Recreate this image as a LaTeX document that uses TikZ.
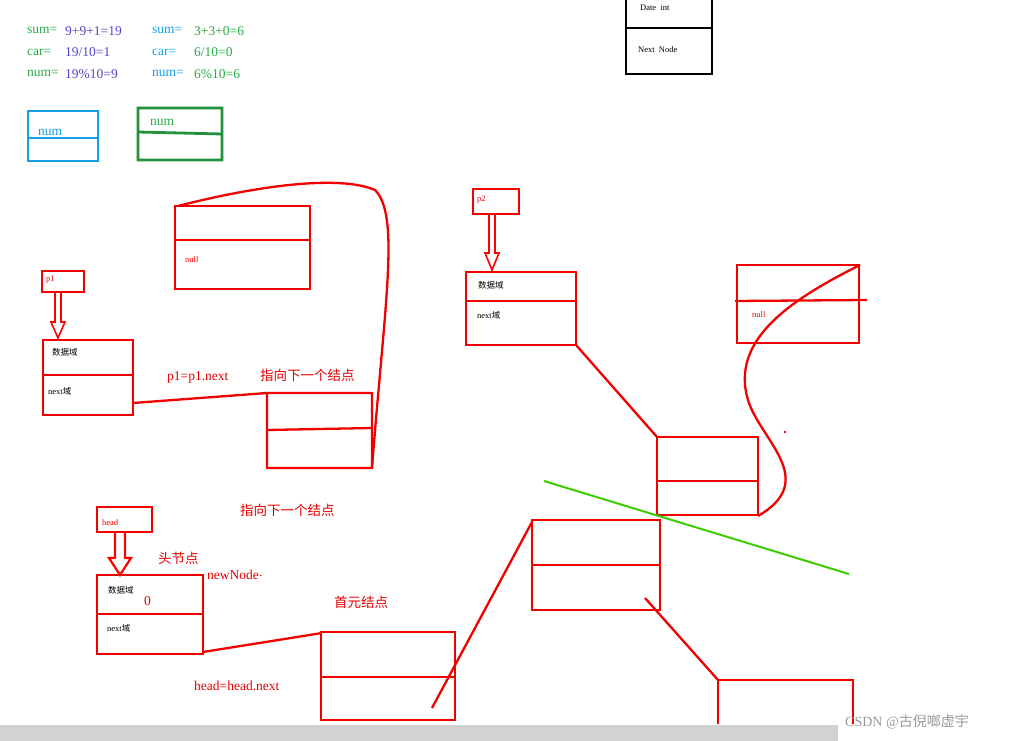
\documentclass[tikz,border=0pt]{standalone}
\usepackage{fontspec}
\setmainfont{Liberation Serif}
\newfontfamily\cjk{Noto Sans CJK SC}
\begin{document}
\begin{tikzpicture}[x=1pt,y=-1pt,
  rb/.style={draw=red!95!black,line width=2.3pt},
  rl/.style={draw=red!95!black,line width=2.3pt},
  tx/.style={anchor=west,inner sep=0pt,font=\fontsize{8.5}{10}\selectfont},
  rt/.style={anchor=west,inner sep=0pt,text=red!90!black,font=\fontsize{13.5}{15}\selectfont},
  ct/.style={anchor=west,inner sep=0pt,text=red!90!black,font=\cjk\fontsize{13.5}{15}\selectfont},
  eq/.style={anchor=west,inner sep=0pt,font=\fontsize{13.5}{15}\selectfont}]
\useasboundingbox (0,0) rectangle (1033,741);
\definecolor{gr}{RGB}{40,170,70}\definecolor{bl}{RGB}{20,160,225}\definecolor{pu}{RGB}{80,70,200}
% top equations
\node[eq,text=gr] (s1) at (27,30) {sum=}; \node[eq,text=pu] (v1) at (65,31) {9+9+1=19};
\node[eq,text=gr] (s2) at (27,52) {car=}; \node[eq,text=pu] (v2) at (65,52) {19/10=1};
\node[eq,text=gr] (s3) at (27,73) {num=}; \node[eq,text=pu] (v3) at (65,74) {19\%10=9};
\node[eq,text=bl] (t1) at (152,30) {sum=}; \node[eq,text=gr] (w1) at (194,31) {3+3+0=6};
\node[eq,text=bl] (t2) at (152,52) {car=}; \node[eq,text=gr] (w2) at (194,52) {6/10=0};
\node[eq,text=bl] (t3) at (152,73) {num=}; \node[eq,text=gr] (w3) at (194,74) {6\%10=6};
% num boxes
\draw[bl,line width=2.4pt] (28,111) rectangle (98,161) (28,138)--(98,138);
\node[eq,text=bl] (n1) at (38,132) {num};
\draw[gr!85!black,line width=2.8pt] (138,108) rectangle (222,160) (138,132)--(222,134);
\node[eq,text=gr] (n2) at (150,122) {num};
% black box
\draw[line width=2.2pt] (626,-2) rectangle (712,74) (626,28)--(712,28);
\node[tx] (d) at (640,8) {Date\ \ int}; \node[tx] (nn) at (638,50) {Next\ \ Node};
% left list
\draw[rb] (175,206) rectangle (310,289) (175,240)--(310,240);
\node[tx,text=red] (nl1) at (185,260) {null};
\draw[rl] (178,206) .. controls (260,185) and (340,175) .. (375,190) .. controls (400,215) and (385,300) .. (372,468);
\draw[rb] (42,271) rectangle (84,292); \node[tx,text=red] (p1) at (46,280) {p1};
\draw[red,line width=1.6pt] (55,292)--(55,322)--(51,322)--(58,338)--(65,322)--(61,322)--(61,292);
\draw[rb] (43,340) rectangle (133,415) (43,375)--(133,375);
\node[tx] (a1) at (52,352) {\cjk 数据域}; \node[tx] (a2) at (48,391) {next\cjk 域};
\draw[rb] (267,393) rectangle (372,468) (267,430)--(372,428);
\draw[rl] (133,403)--(267,393);
\node[rt] (l1) at (167,377) {p1=p1.next}; \node[ct] (l2) at (260,375) {指向下一个结点};
\node[ct] (l3) at (240,510) {指向下一个结点};
% head
\draw[rb] (97,507) rectangle (152,532); \node[tx,text=red] (h) at (102,523) {head};
\draw[red,line width=2.2pt] (115,532)--(115,558)--(109,558)--(120,575)--(131,558)--(125,558)--(125,532);
\node[ct] (hn) at (158,558) {头节点}; \node[rt] (nw) at (207,575) {newNode$\cdot$};
\draw[rb] (97,575) rectangle (203,654) (97,614)--(203,614);
\node[tx] (b1) at (108,590) {\cjk 数据域}; \node[rt] (z) at (144,601) {0}; \node[tx] (b2) at (107,628) {next\cjk 域};
\draw[rb] (321,632) rectangle (455,720) (321,677)--(455,677);
\draw[rl] (203,652)--(322,633);
\node[ct] (sy) at (334,602) {首元结点}; \node[rt] (hh) at (194,686) {head=head.next};
\draw[rl] (432,708)--(532,522);
\draw[rb] (532,520) rectangle (660,610) (532,565)--(660,565);
\draw[rl] (645,598)--(718,680);
\draw[rb] (718,724)--(718,680)--(853,680)--(853,724);
% right list
\draw[rb] (473,189) rectangle (519,214); \node[tx,text=red] (p2) at (477,200) {p2};
\draw[red,line width=1.6pt] (489,214)--(489,253)--(485,253)--(492,270)--(499,253)--(495,253)--(495,214);
\draw[rb] (466,272) rectangle (576,345) (466,301)--(576,301);
\node[tx] (c1) at (478,285) {\cjk 数据域}; \node[tx] (c2) at (477,315) {next\cjk 域};
\draw[rl] (576,345)--(657,437);
\draw[rb] (657,437) rectangle (758,515) (657,481)--(758,481);
\draw[rb] (737,265) rectangle (859,343); \draw[rl] (735,301)--(867,300);
\node[tx,text=red] (nl2) at (752,315) {null};
\draw[rl] (860,265) .. controls (790,300) and (730,340) .. (748,400) .. controls (760,440) and (820,480) .. (758,516);
\fill[red] (785,432) circle (1.4);
\draw[green!70!yellow!80!black,line width=2pt] (544,481)--(849,574);
% footer
\fill[gray!35] (0,725) rectangle (838,741);
\node[anchor=west,inner sep=0pt,text=gray!80,font=\fontsize{14}{16}\selectfont] (cs) at (845,722) {CSDN @\cjk 古倪啷虚宇};
\end{tikzpicture}
\end{document}
